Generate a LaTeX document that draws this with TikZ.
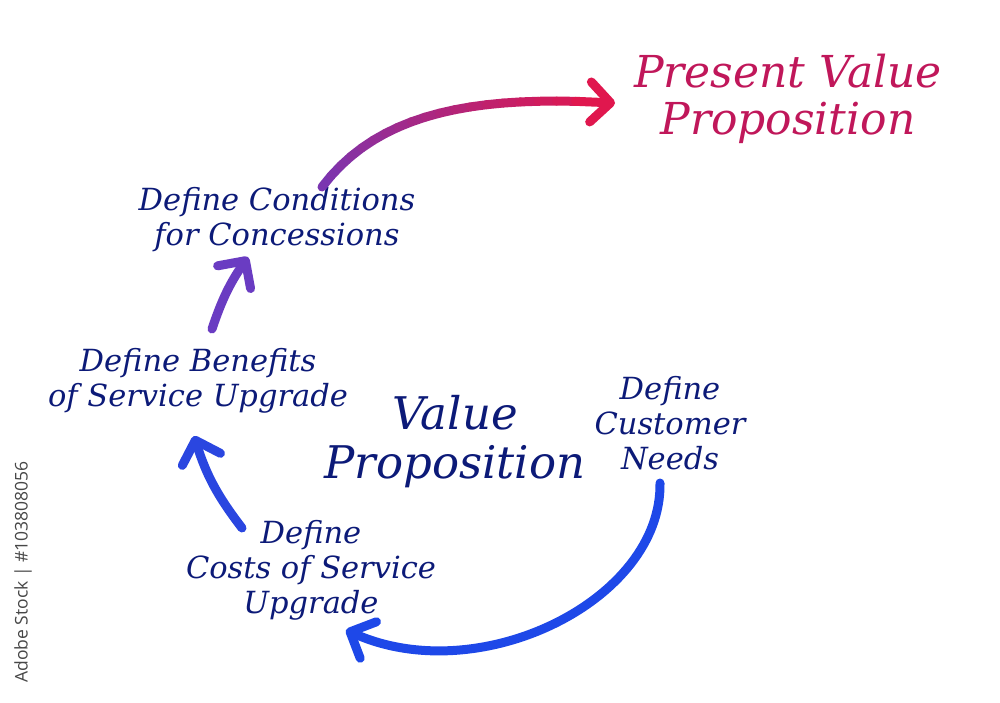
\documentclass[tikz,border=0pt]{standalone}
\usepackage{fontspec}
\setmainfont{DejaVu Serif}
\newfontfamily\wmfont{Open Sans}
\usetikzlibrary{arrows.meta}
\definecolor{navy}{HTML}{0C1A78}
\definecolor{crim}{HTML}{C0175A}
\definecolor{blueA}{HTML}{1E48E8}
\definecolor{blueB}{HTML}{2A46E0}
\definecolor{purp}{HTML}{6A3CC2}
\definecolor{purpS}{HTML}{7A35B0}
\definecolor{redE}{HTML}{E0174E}
\tikzset{
  lbl/.style={text=navy, align=center, inner sep=0pt,
    font=\itshape\fontsize{30.5}{35}\selectfont},
  bigl/.style={text=navy, align=center, inner sep=0pt,
    font=\itshape\fontsize{45}{49}\selectfont},
  goal/.style={text=crim, align=center, inner sep=0pt,
    font=\itshape\fontsize{44}{47}\selectfont},
  flow/.style={line width=9pt, line cap=round,
    -{Straight Barb[length=20pt,width=40pt,line cap=round,line join=round]}},
}
\begin{document}
\begin{tikzpicture}[x=1pt,y=-1pt]
\useasboundingbox[fill=white] (0,0) rectangle (1000,703);

% texts
\node[goal] (present) at (788,99) {Present Value\\Proposition};
\node[lbl] (cond) at (277,220) {Define Conditions\\for Concessions};
\node[lbl] (bene) at (198,381) {Define Benefits\\of Service Upgrade};
\node[bigl] (vp) at (455,442) {Value\\Proposition};
\node[lbl] (cust) at (670,423) {Define\\Customer\\Needs};
\node[lbl] (cost) at (311,570) {Define\\Costs of Service\\Upgrade};

% watermark caption
\node[rotate=90, text=black!72, font=\wmfont\fontsize{17.5}{20}\selectfont, inner sep=0pt] (wm) at (23,572) {Adobe Stock | \#103808056};

% connector end points
\coordinate (c1s) at (660,483);
\coordinate (c1e) at (346,630);
\coordinate (c2s) at (242,528);
\coordinate (c2e) at (194,436);
\coordinate (c3s) at (212,329);
\coordinate (c3e) at (248,257);
\coordinate (c4s) at (322,187);
\coordinate (c4e) at (615,103);

% connectors
\draw[flow, blueA] (c1s) .. controls (662,600) and (480,690) .. (c1e);
\draw[flow, blueB] (c2s) to[bend left=10] (c2e);
\draw[flow, purp] (c3s) to[bend left=8] (c3e);

% gradient connector
\path (c4s) .. controls (380,110) and (480,95) .. (c4e)
  \foreach \i in {0,...,20} { coordinate[pos=\i/20] (g\i) };
\foreach \i [evaluate=\i as \j using int(\i+1), evaluate=\i as \m using 100-\i*5.3] in {0,...,17} {
  \draw[line width=9pt, line cap=round, color=purpS!\m!redE] (g\i) -- (g\j);
}
\draw[flow, redE] (g18) -- (c4e);
\end{tikzpicture}
\end{document}
